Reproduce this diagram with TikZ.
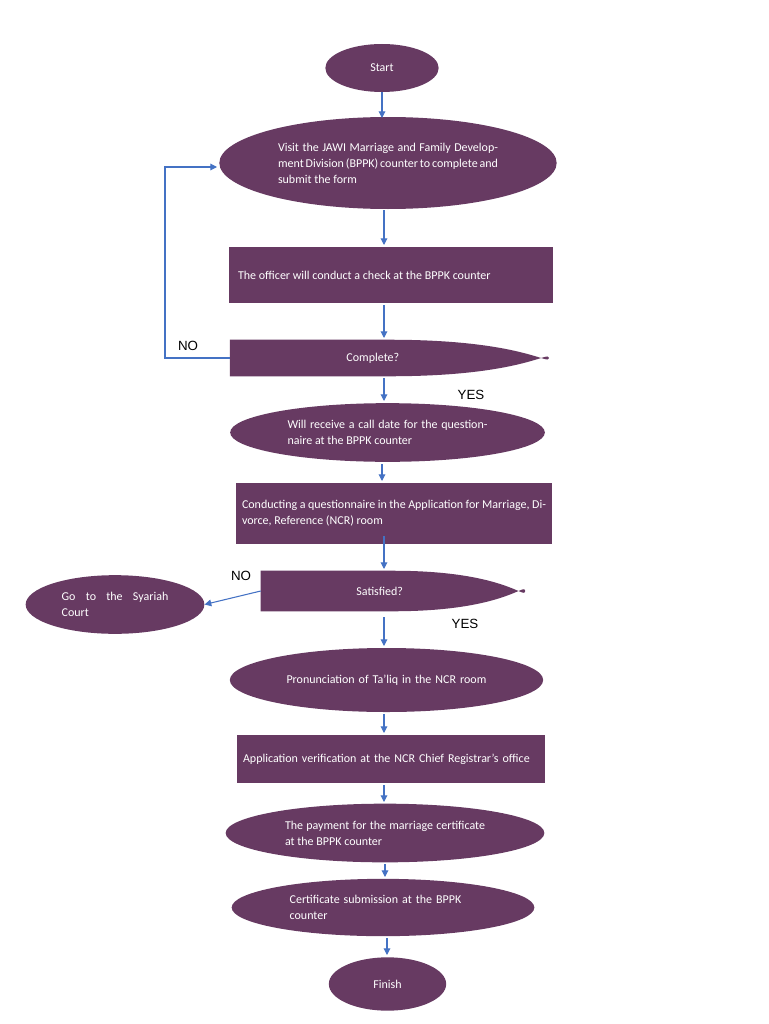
\documentclass[tikz,border=0pt]{standalone}
\usepackage{fontspec}
\setmainfont{Carlito}
\newfontfamily\lab{Liberation Sans}
\usetikzlibrary{shapes.geometric,arrows.meta}
\definecolor{plum}{HTML}{673A62}
\definecolor{arr}{HTML}{4472C4}
\begin{document}
\begin{tikzpicture}[x=0.75pt,y=-0.75pt,
  base/.style={fill=plum,text=white,font=\fontsize{9}{12}\selectfont,inner sep=2pt},
  ell/.style={base,ellipse,minimum width=#1},
  box/.style={base,rectangle,minimum height=#1},
  dec/.style={font=\fontsize{9}{12}\selectfont,text=white,rectangle,minimum width=#1},
  lbl/.style={font=\lab\fontsize{10}{12}\selectfont},
  ar/.style={draw=arr,line width=0.8pt,-{Triangle[length=5pt,width=5pt]}}]
\useasboundingbox (0,0) rectangle (768,1024);
\node[ell=114pt*0.75/0.75,minimum width=85pt,minimum height=36pt] (start) at (382,68) {Start};
\node[base,ellipse,minimum width=253pt,minimum height=69pt,align=justify,text width=165pt] (visit) at (388,163) {Visit the JAWI Marriage and Family Development Division (BPPK) counter to complete and submit the form};
\node[box=42pt,minimum width=243pt] (check) at (391,275) {The officer will conduct a check at the BPPK counter\hspace*{40pt}};
\node[dec=239pt,minimum height=27pt] (comp) at (389.5,358) {\hspace*{-25pt}Complete?};
\fill[plum] (comp.north west) -- (comp.north) .. controls ([xshift=-20pt]comp.north east) and ([yshift=-6pt]comp.east) .. (comp.east) .. controls ([yshift=6pt]comp.east) and ([xshift=-20pt]comp.south east) .. (comp.south) -- (comp.south west) -- cycle;
\node[dec=239pt,minimum height=27pt] at (389.5,358) {\hspace*{-25pt}Complete?};
\node[base,ellipse,minimum width=236pt,minimum height=44pt,align=justify,text width=150pt] (call) at (387.5,432.5) {Will receive a call date for the questionnaire at the BPPK counter};
\node[box=46pt,minimum width=237pt,align=justify,text width=228pt] (quest) at (394,513.5) {Conducting a questionnaire in the Application for Marriage, Divorce, Reference (NCR) room};
\node[dec=198pt,minimum height=30pt] (sat) at (393,591) {};
\fill[plum] (sat.north west) -- (sat.north) .. controls ([xshift=-15pt]sat.north east) and ([yshift=-7pt]sat.east) .. (sat.east) .. controls ([yshift=7pt]sat.east) and ([xshift=-15pt]sat.south east) .. (sat.south) -- (sat.south west) -- cycle;
\node[dec=198pt,minimum height=30pt] at (393,591) {\hspace*{-20pt}Satisfied?};
\node[base,ellipse,minimum width=134pt,minimum height=44pt,align=justify,text width=80pt] (court) at (115,604.5) {Go to the Syariah Court};
\node[base,ellipse,minimum width=235pt,minimum height=48pt,align=left,text width=150pt] (pron) at (386.5,680) {Pronunciation of Ta'liq in the NCR room};
\node[box=36pt,minimum width=231pt,align=left,text width=222pt] (verif) at (391,759) {Application verification at the NCR Chief Registrar's office};
\node[base,ellipse,minimum width=239pt,minimum height=44pt,align=justify,text width=150pt] (pay) at (385,833) {The payment for the marriage certificate at the BPPK counter};
\node[base,ellipse,minimum width=227pt,minimum height=43pt,align=left,text width=140pt] (cert) at (383,907.5) {Certificate submission at the BPPK counter};
\node[ell=0pt,minimum width=88pt,minimum height=40pt] (fin) at (387.5,984) {Finish};
\coordinate (l1) at (165,358); \coordinate (l2) at (165,167);
\draw[ar] (start) -- (382,118);
\draw[ar] (384,210) -- (384,245);
\draw[ar] (384,305) -- (384,338);
\draw[ar] (384,378) -- (384,401);
\draw[ar] (382,464) -- (382,481);
\draw[ar] (384,536) -- (384,569);
\draw[ar] (384,617) -- (384,646);
\draw[ar] (384,714) -- (384,733);
\draw[ar] (384,785) -- (384,802);
\draw[ar] (385,864) -- (385,877);
\draw[ar] (387,938) -- (387,955);
\draw[ar] (comp.west) -- (l1) -- (l2) -- (217,167);
\draw[ar] (sat.west) -- (court.east);
\node[lbl] at (188,346) {NO};
\node[lbl] at (471,395) {YES};
\node[lbl] at (241,576) {NO};
\node[lbl] at (465,624) {YES};
\end{tikzpicture}
\end{document}
